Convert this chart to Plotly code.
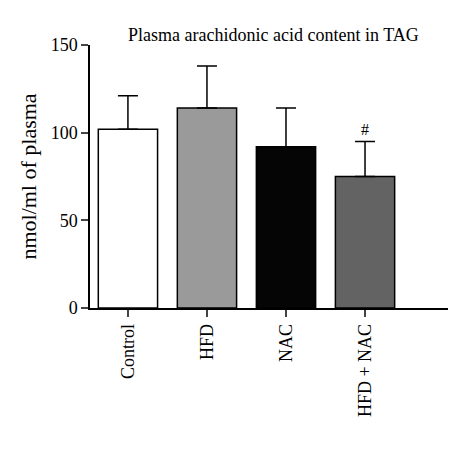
import plotly.graph_objects as go

categories = ["Control", "HFD", "NAC", "HFD + NAC"]
means = [102, 114, 92, 75]
errors = [19, 24, 22, 20]
colors = ["#ffffff", "#9a9a9a", "#050505", "#636363"]
annot = ["", "", "", "#"]

fig = go.Figure(go.Bar(
    x=categories, y=means, marker=dict(color=colors, line=dict(color="black", width=1.5)),
    width=0.75,
    error_y=dict(type="data", array=errors, arrayminus=[0]*4, symmetric=False,
                 color="black", thickness=1.5, width=10),
))
for c, m, e, a in zip(categories, means, errors, annot):
    if a:
        fig.add_annotation(x=c, y=m + e, text=a, showarrow=False, yshift=12,
                           font=dict(size=16, color="black"))
fig.update_layout(
    width=474, height=450, margin=dict(l=82, r=34, t=37, b=150),
    plot_bgcolor="white", paper_bgcolor="white",
    font=dict(family="Liberation Serif", size=18, color="black"),
    title=dict(text="Plasma arachidonic acid content in TAG", x=0.56, y=0.955,
               font=dict(size=18)),
    showlegend=False, bargap=0.25,
)
fig.update_yaxes(range=[0, 150], tickvals=[0, 50, 100, 150], showline=True, linecolor="black",
                 linewidth=1.5, ticks="outside", ticklen=7, tickwidth=1.5, showgrid=False,
                 zeroline=False, title=dict(text="nmol/ml of plasma", standoff=8))
fig.update_xaxes(showline=True, linecolor="black", linewidth=1.5, ticks="outside", ticklen=7,
                 tickwidth=1.5, tickangle=-90, range=[-0.48, 4.05])
fig.write_html("out.html")
